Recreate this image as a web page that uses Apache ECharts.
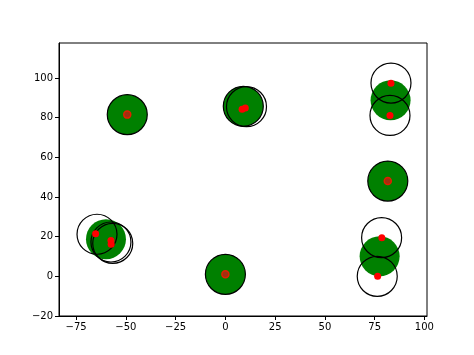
<!DOCTYPE html>
<html>
<head>
<meta charset="utf-8">
<script src="https://cdn.jsdelivr.net/npm/echarts@6/dist/echarts.min.js"></script>
<style>html,body{margin:0;padding:0;background:#fff}#c{width:474px;height:355px}</style>
</head>
<body>
<div id="c"></div>
<script>
// Data
var greenEdged = [[-49.3, 81.5], [9.0, 85.7], [0.0, 1.0], [81.6, 48.0]];
var greenPlain = [[-60.0, 18.7], [83.0, 88.7], [77.5, 10.1]];
var openRings = [[-64.5, 21.2], [-57.5, 17.3], [-56.6, 16.6], [10.6, 85.5], [83.2, 97.4], [82.7, 81.1], [78.5, 19.5], [76.3, 0.0]];
var redSolid = [[-65.2, 21.4], [-57.5, 18.0], [-57.4, 16.2], [8.4, 84.2], [10.0, 84.8], [83.2, 97.3], [82.7, 81.0], [78.6, 19.5], [76.5, 0.0]];
var redRing = [[-49.3, 81.5], [0.0, 1.0], [81.6, 48.0]];
var xTicks = [-75, -50, -25, 0, 25, 50, 75, 100];
var yTicks = [-20, 0, 20, 40, 60, 80, 100];

var chart = echarts.init(document.getElementById('c'), null, {renderer: 'canvas'});
function fmt(v) { return String(v).replace('-', '\u2212'); }
var axisCommon = {
  axisLine: {show: true, onZero: false, lineStyle: {color: '#000', width: 1}},
  axisTick: {show: true, inside: false, length: 4, lineStyle: {color: '#000', width: 1}},
  splitLine: {show: false},
  axisLabel: {color: '#000', fontFamily: 'DejaVu Sans', fontSize: 10, margin: 6}
};
var option = {
  animation: false,
  backgroundColor: '#fff',
  grid: {left: 59, right: 47, top: 43, bottom: 39, show: true, borderColor: '#000', borderWidth: 1, backgroundColor: 'transparent'},
  xAxis: echarts.util.merge({
    type: 'value', min: -83.6, max: 101.3,
    axisTick: {customValues: xTicks},
    axisLabel: {customValues: xTicks, formatter: fmt}
  }, axisCommon),
  yAxis: echarts.util.merge({
    type: 'value', min: -20, max: 117.6,
    axisTick: {customValues: yTicks},
    axisLabel: {customValues: yTicks, formatter: fmt}
  }, axisCommon),
  series: [
    {type: 'scatter', data: greenPlain, symbol: 'circle', symbolSize: 40, itemStyle: {color: '#008000', opacity: 1}, z: 2},
    {type: 'scatter', data: greenEdged, symbol: 'circle', symbolSize: 40, itemStyle: {color: '#008000', borderColor: '#000', borderWidth: 1.2, opacity: 1}, z: 3},
    {type: 'scatter', data: openRings, symbol: 'circle', symbolSize: 40, itemStyle: {color: 'rgba(0,0,0,0)', borderColor: '#000', borderWidth: 1.2, opacity: 1}, z: 4},
    {type: 'scatter', data: redSolid, symbol: 'circle', symbolSize: 7, itemStyle: {color: '#ff0000', opacity: 1}, z: 5},
    {type: 'scatter', data: redRing, symbol: 'circle', symbolSize: 7, itemStyle: {color: '#a03010', borderColor: '#e02000', borderWidth: 1.5, opacity: 1}, z: 5}
  ]
};
chart.setOption(option);
</script>
</body>
</html>
